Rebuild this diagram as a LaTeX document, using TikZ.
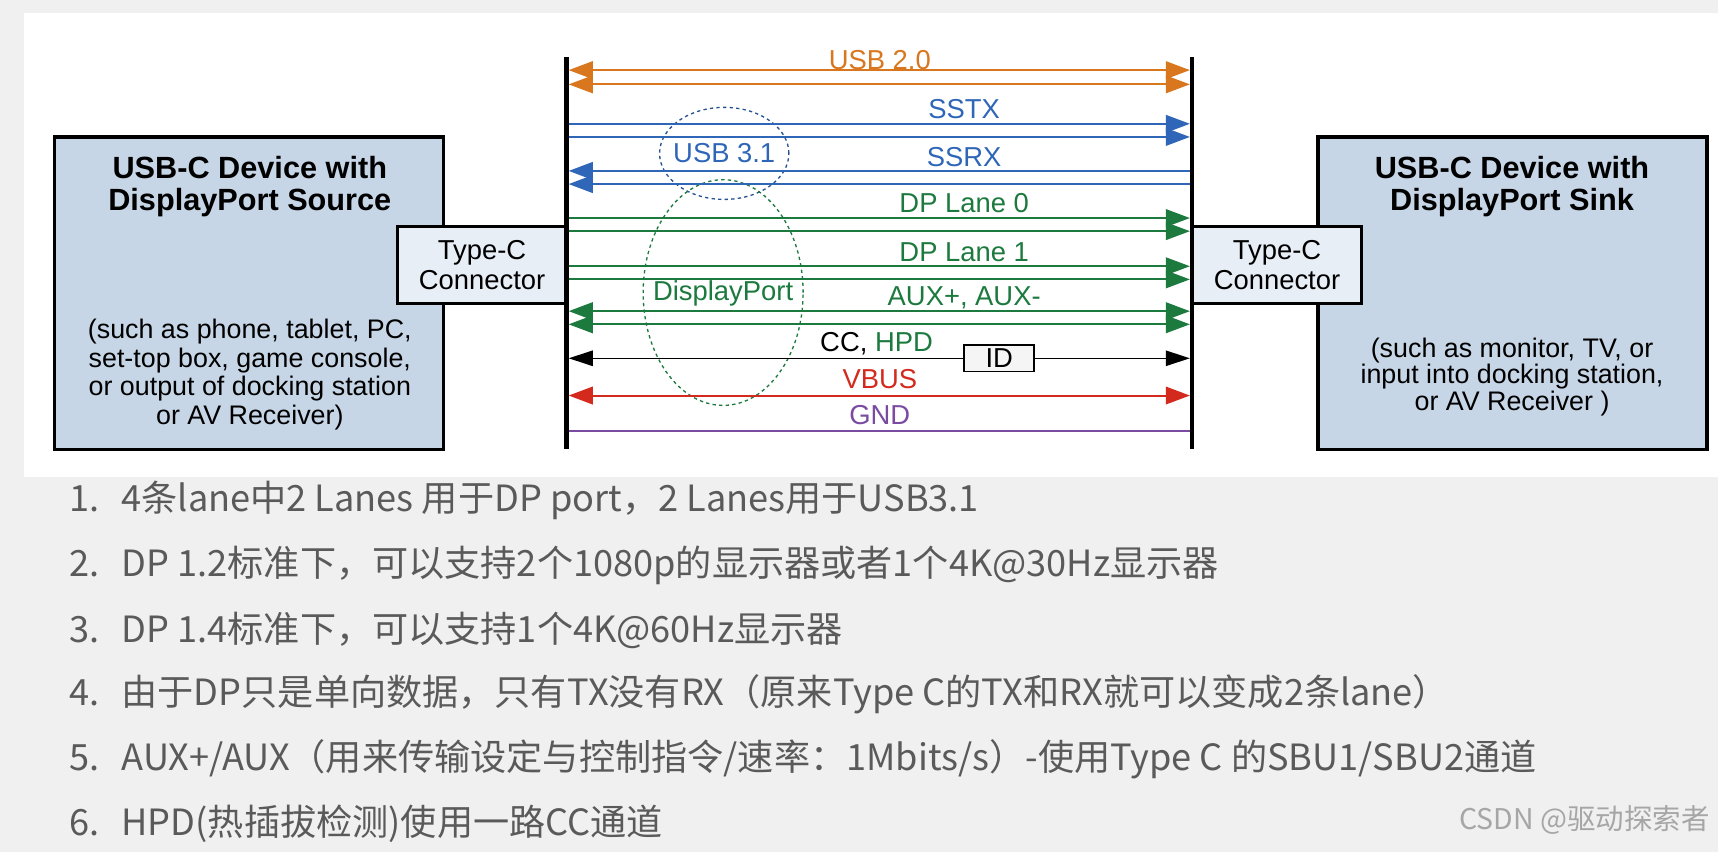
\documentclass[tikz,border=0pt]{standalone}
\usepackage{fontspec}
\setmainfont{Liberation Sans}
\newfontfamily\cjk{Noto Sans CJK SC}
\usetikzlibrary{arrows.meta,shapes.geometric}
\definecolor{usbor}{HTML}{D9771E}
\definecolor{usbbl}{HTML}{2F66B8}
\definecolor{dpgr}{HTML}{1C7A3E}
\definecolor{vred}{HTML}{D42A1E}
\definecolor{gpur}{HTML}{7A4BA0}
\definecolor{boxbl}{HTML}{C7D6E6}
\definecolor{conbl}{HTML}{E8EEF6}
\definecolor{txgray}{HTML}{5A5A5A}
\tikzset{
  tip/.style={-{Triangle[length=22pt,width=16pt]}},
  bitip/.style={{Triangle[length=22pt,width=16pt]}-{Triangle[length=22pt,width=16pt]}},
  sig/.style={line width=1.8pt},
  lbl/.style={font=\fontsize{25}{28}\selectfont},
  bigbox/.style={draw=black,line width=3pt,fill=boxbl},
  conbox/.style={draw=black,line width=3pt,fill=conbl,align=center,font=\fontsize{25}{27}\selectfont},
  item/.style={anchor=west,text=txgray,font=\cjk\fontsize{33}{36}\selectfont},
}
\begin{document}
\begin{tikzpicture}[x=1pt,y=-1pt]
\useasboundingbox (0,0) rectangle (1568,778);
\fill[gray!12] (0,0) rectangle (1568,778);
\fill[white] (22,12) rectangle (1568,435);
% boxes
\node[bigbox,minimum width=355pt,minimum height=285pt] (srcbox) at (227.5,267.5) {};
\node[bigbox,minimum width=355pt,minimum height=285pt] (snkbox) at (1380.5,267.5) {};
\node[align=center,font=\bfseries\fontsize{28}{29}\selectfont] (srct) at (228,170) {USB-C Device with\\DisplayPort Source};
\node[align=center,font=\fontsize{24.5}{26}\selectfont] (srcs) at (228,342) {(such as phone, tablet, PC,\\set-top box, game console,\\or output of docking station\\or AV Receiver)};
\node[align=center,font=\bfseries\fontsize{28}{29}\selectfont] (snkt) at (1380,170) {USB-C Device with\\DisplayPort Sink};
\node[align=center,font=\fontsize{24.5}{24}\selectfont] (snks) at (1380,344) {(such as monitor, TV, or\\input into docking station,\\or AV Receiver )};
\node[conbox,minimum width=154pt,minimum height=70pt] (lcon) at (440,242) {Type-C\\Connector};
\node[conbox,minimum width=154pt,minimum height=70pt] (rcon) at (1165.5,242) {Type-C\\Connector};
% vertical bars
\coordinate (lt) at (517,52); \coordinate (lb) at (517,410);
\coordinate (rt) at (1088,52); \coordinate (rb) at (1088,410);
\draw[line width=4pt] (lt) -- (lb);
\draw[line width=4pt] (rt) -- (rb);
% ellipses
\node[draw=usbbl!80!black,dashed,line width=1.2pt,ellipse,minimum width=118pt,minimum height=84pt] (e31) at (661,140) {};
\node[text=usbbl,lbl] (e31t) at (661,140) {USB 3.1};
\node[draw=dpgr,dashed,line width=1.2pt,ellipse,minimum width=146pt,minimum height=206pt] (edp) at (660,267) {};
\node[text=dpgr,lbl] (edpt) at (660,268) {DisplayPort};
% signals
\draw[sig,usbor,bitip] (519,64) -- (1086,64);
\draw[sig,usbor,bitip] (519,77) -- (1086,77);
\node[lbl,text=usbor] (l1) at (803,55) {USB 2.0};
\draw[sig,usbbl,tip] (519,113) -- (1086,113);
\draw[sig,usbbl,tip] (519,125) -- (1086,125);
\node[lbl,text=usbbl] (l2) at (880,100) {SSTX};
\draw[sig,usbbl,tip] (1086,156) -- (519,156);
\draw[sig,usbbl,tip] (1086,168) -- (519,168);
\node[lbl,text=usbbl] (l3) at (880,143) {SSRX};
\draw[sig,dpgr,tip] (519,199) -- (1086,199);
\draw[sig,dpgr,tip] (519,211) -- (1086,211);
\node[lbl,text=dpgr] (l4) at (880,185) {DP Lane 0};
\draw[sig,dpgr,tip] (519,243) -- (1086,243);
\draw[sig,dpgr,tip] (519,255) -- (1086,255);
\node[lbl,text=dpgr] (l5) at (880,230) {DP Lane 1};
\draw[sig,dpgr,bitip] (519,284) -- (1086,284);
\draw[sig,dpgr,bitip] (519,296) -- (1086,296);
\node[lbl,text=dpgr] (l6) at (880,272) {AUX+, AUX-};
\node[draw=black,line width=1.5pt,fill=gray!8,minimum width=64pt,minimum height=24pt,inner sep=0pt,lbl] (id) at (912,327) {ID};
\draw[line width=1.4pt,{Triangle[length=22pt,width=14pt]}-] (519,327) -- (id.west);
\draw[line width=1.4pt,-{Triangle[length=22pt,width=14pt]}] (id.east) -- (1086,327);
\node[lbl] (l7) at (800,314) {CC, \textcolor{dpgr}{HPD}};
\draw[sig,vred,bitip] (519,361) -- (1086,361);
\node[lbl,text=vred] (l8) at (803,346) {VBUS};
\draw[sig,gpur] (519,393) -- (1086,393);
\node[lbl,text=gpur] (l9) at (803,379) {GND};
% list
\node[item] (i1) at (60,457) {1.\hspace{20pt}4条lane中2 Lanes 用于DP port，2 Lanes用于USB3.1};
\node[item] (i2) at (60,516) {2.\hspace{20pt}DP 1.2标准下，可以支持2个1080p的显示器或者1个4K@30Hz显示器};
\node[item] (i3) at (60,575) {3.\hspace{20pt}DP 1.4标准下，可以支持1个4K@60Hz显示器};
\node[item] (i4) at (60,634) {4.\hspace{20pt}由于DP只是单向数据，只有TX没有RX（原来Type C的TX和RX就可以变成2条lane）};
\node[item] (i5) at (60,693) {5.\hspace{20pt}AUX+/AUX（用来传输设定与控制指令/速率：1Mbits/s）-使用Type C 的SBU1/SBU2通道};
\node[item] (i6) at (60,752) {6.\hspace{20pt}HPD(热插拔检测)使用一路CC通道};
\node[anchor=east,text=gray!70,font=\cjk\fontsize{26}{28}\selectfont] (wm) at (1564,748) {CSDN @驱动探索者};
\end{tikzpicture}
\end{document}
